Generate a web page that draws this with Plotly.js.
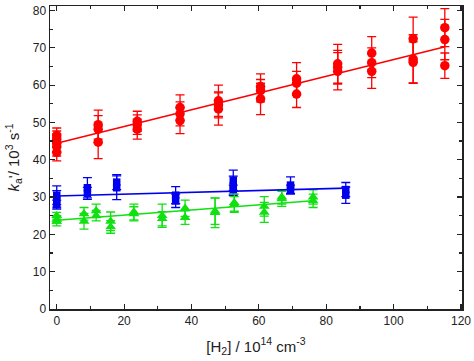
<!DOCTYPE html>
<html>
<head>
<meta charset="utf-8">
<script src="https://cdn.plot.ly/plotly-3.0.1.min.js"></script>
<style>html,body{margin:0;padding:0;background:#fff}#chart{width:474px;height:361px}</style>
</head>
<body>
<div id="chart"></div>
<script>
// Red series (circles)
const redX   = [0,0,0,0,0, 12.3,12.3,12.3, 23.9,23.9,23.9, 36.6,36.6,36.6, 48,48,48, 60.5,60.5,60.5, 71.2,71.2,71.2, 83.4,83.4,83.4, 93.5,93.5,93.5, 105.8,105.8,105.8, 115.2,115.2,115.2];
const redY   = [46.5,45.5,44.5,43.5,42.0, 49.4,48.2,44.7, 50.3,49.4,48.2, 54.0,52.3,50.5, 55.8,54.7,53.6, 59.6,58.5,56.3, 61.7,60.5,57.6, 65.7,64.8,63.7, 68.6,66.0,63.7, 72.4,67.0,66.1, 75.4,72.2,65.2];
const redErr = [2.0,2.2,2.4,2.5,2.3, 3.9,3.6,4.4, 2.7,2.6,2.7, 3.4,3.2,3.5, 4.2,3.5,4.3, 3.4,3.0,4.2, 4.3,3.2,3.6, 5.2,4.5,5.0, 4.4,4.0,4.6, 5.8,6.5,5.5, 5.1,5.4,3.4];
// Blue series (squares)
const blueX   = [0,0,0, 9.1,9.1, 17.8,17.8, 35.3,35.3, 52.4,52.4,52.4, 69.4,69.4, 85.8,85.8];
const blueY   = [30.5,29.5,28.0, 32.5,31.0, 34.0,32.5, 30.5,29.0, 34.5,33.0,32.0, 33.2,32.0, 32.0,30.5];
const blueErr = [2.5,2.2,1.2, 2.7,1.6, 2.0,3.2, 2.3,1.8, 2.7,2.6,1.2, 2.2,1.2, 1.9,2.2];
// Green series (triangles)
const greenX   = [0,0,0, 8.1,8.1, 11.7,11.7, 16.0,16.0, 22.9,22.9, 31.3,31.3, 38.1,38.1, 47.0,47.0, 52.7,52.7, 61.6,61.6, 66.8,66.8, 76.1,76.1];
const greenY   = [25.0,24.0,23.5, 25.5,23.5, 26.3,25.0, 23.5,22.0, 26.0,25.5, 25.0,24.2, 27.0,24.5, 26.2,25.8, 28.5,28.0, 27.5,25.9, 30.0,29.5, 30.0,29.0];
const greenErr = [0.9,1.0,1.2, 1.7,2.1, 1.8,1.4, 2.5,1.7, 2.1,1.9, 3.1,1.9, 2.2,1.8, 3.5,4.0, 2.3,2.1, 2.6,2.7, 1.9,2.0, 1.9,1.8];
// Linear fits
const redFitX = [0, 115];   const redFitY = [44.4, 70.2];
const blueFitX = [0, 86];   const blueFitY = [30.3, 32.4];
const greenFitX = [0, 76];  const greenFitY = [23.8, 29.0];
// Axis ticks
const xTicks = [0,20,40,60,80,100,120];
const yTicks = [0,10,20,30,40,50,60,70,80];

const RED='#ff0000', BLUE='#0000ee', GREEN='#11e011';
function pts(x,y,e,color,symbol,size){
  return {x:x,y:y,type:'scatter',mode:'markers',
    marker:{color:color,symbol:symbol,size:size},
    error_y:{type:'data',array:e,visible:true,color:color,thickness:1.3,width:4.5},
    showlegend:false,hoverinfo:'skip'};
}
function fit(x,y,color){
  return {x:x,y:y,type:'scatter',mode:'lines',line:{color:color,width:1.6},showlegend:false,hoverinfo:'skip'};
}
const data=[
  pts(redX,redY,redErr,RED,'circle',9.5),
  pts(blueX,blueY,blueErr,BLUE,'square',7.5),
  pts(greenX,greenY,greenErr,GREEN,'triangle-up',9.5),
  fit(redFitX,redFitY,RED),
  fit(blueFitX,blueFitY,BLUE),
  fit(greenFitX,greenFitY,GREEN)
];
const axisCommon={showline:true,linecolor:'#222',linewidth:1.5,mirror:'allticks',
  ticks:'inside',ticklen:5,tickwidth:1.2,tickcolor:'#222',showgrid:false,zeroline:false,
  tickfont:{family:'Liberation Sans, Arial, sans-serif',size:12,color:'#222'}};
const layout={
  width:474,height:361,
  margin:{l:50,r:12,t:6,b:52},
  paper_bgcolor:'#fff',plot_bgcolor:'#fff',
  font:{family:'Liberation Sans, Arial, sans-serif',color:'#222'},
  xaxis:Object.assign({},axisCommon,{range:[-2,120.3],tickmode:'array',tickvals:xTicks,ticktext:xTicks.map(String),
    minor:{dtick:10,tick0:0,ticks:'inside',ticklen:3,tickcolor:'#222',tickwidth:1.2},
    title:{text:'[H<sub>2</sub>] / 10<sup>14</sup> cm<sup>-3</sup>',font:{size:15,color:'#222'},standoff:14}}),
  yaxis:Object.assign({},axisCommon,{range:[0,81.2],tickmode:'array',tickvals:yTicks,ticktext:yTicks.map(String),
    minor:{dtick:5,tick0:0,ticks:'inside',ticklen:3,tickcolor:'#222',tickwidth:1.2},
    title:{text:"<i>k</i><sub>a</sub>'/ 10<sup>3</sup> s<sup>-1</sup>",font:{size:15,color:'#222'},standoff:9}})
};
Plotly.newPlot('chart',data,layout,{staticPlot:true,displayModeBar:false});
</script>
</body>
</html>
